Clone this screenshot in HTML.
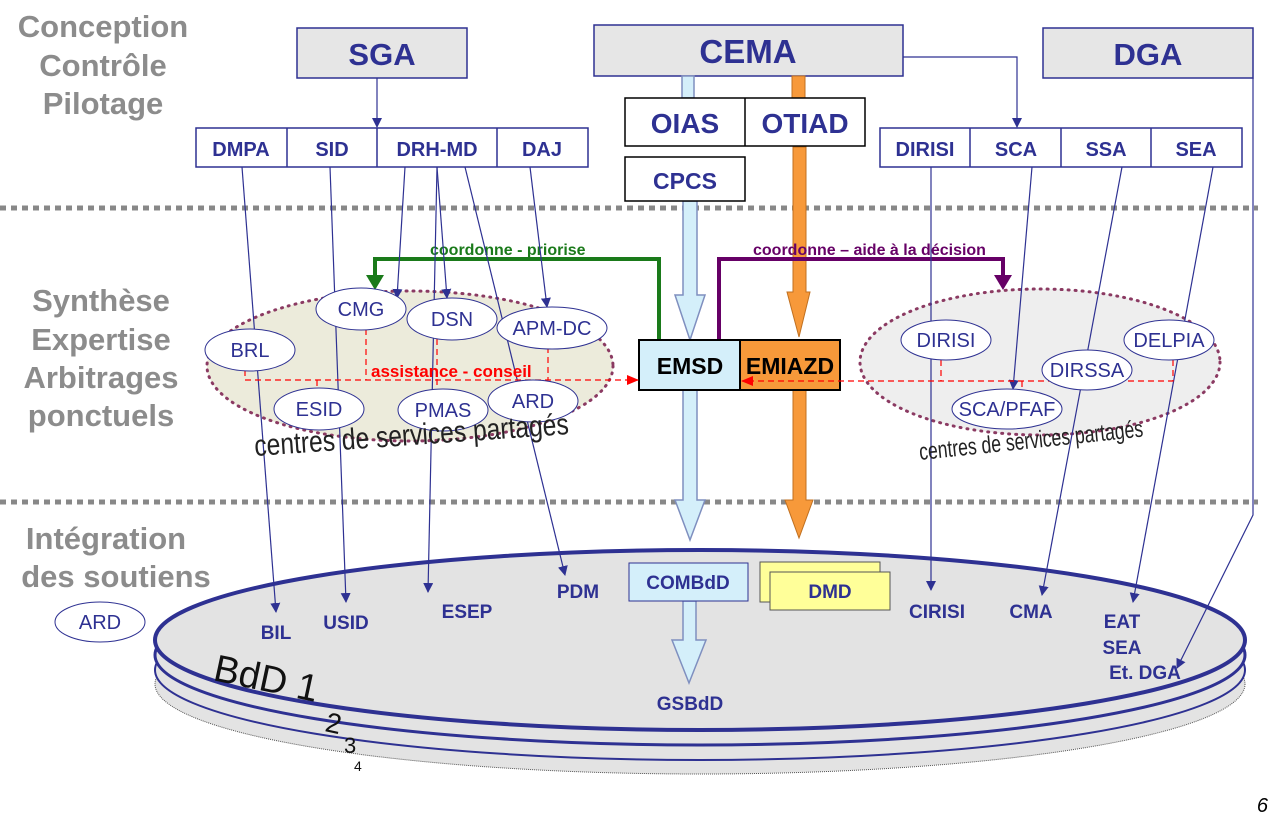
<!DOCTYPE html>
<html><head><meta charset="utf-8"><style>
html,body{margin:0;padding:0;background:#fff;width:1274px;height:814px;overflow:hidden}
svg text{font-family:"Liberation Sans",sans-serif}
.g{fill:#8c8c8c;font-weight:bold;font-size:31px}
.n{fill:#2e3192;font-weight:bold;font-size:19px}
.e{fill:#2e3192;font-size:20px}
</style></head><body>
<svg width="1274" height="814" viewBox="0 0 1274 814" xmlns="http://www.w3.org/2000/svg">
<defs>
<marker id="a" markerWidth="10" markerHeight="10" refX="9" refY="5" orient="auto" markerUnits="userSpaceOnUse"><path d="M0,0 L10,5 L0,10 z" fill="#2e3192"/></marker>
<marker id="r" markerWidth="12" markerHeight="12" refX="11" refY="6" orient="auto" markerUnits="userSpaceOnUse"><path d="M0,1 L12,6 L0,11 z" fill="#f00"/></marker>
</defs>
<g class="g" text-anchor="middle">
<text x="103" y="37">Conception</text><text x="103" y="76">Contrôle</text><text x="103" y="114">Pilotage</text>
<text x="101" y="311">Synthèse</text><text x="101" y="350">Expertise</text><text x="101" y="388">Arbitrages</text><text x="101" y="426">ponctuels</text>
<text x="106" y="549">Intégration</text><text x="116" y="587">des soutiens</text>
</g>
<line x1="0" y1="208" x2="1258" y2="208" stroke="#888" stroke-width="5" stroke-dasharray="6,5"/>
<line x1="0" y1="502" x2="1258" y2="502" stroke="#888" stroke-width="5" stroke-dasharray="6,5"/>

<g stroke="#2e3192" fill="#e3e3e3">
<ellipse cx="700" cy="684" rx="545" ry="90" stroke="#555" stroke-width="1" stroke-dasharray="1,1"/>
<ellipse cx="700" cy="670" rx="545" ry="90" stroke-width="2"/>
<ellipse cx="700" cy="655" rx="545" ry="90" stroke-width="3"/>
<ellipse cx="700" cy="640" rx="545" ry="90" stroke-width="4"/>
</g>
<text x="212" y="680" font-size="38" transform="rotate(12 212 680)" fill="#111">BdD 1</text>
<text x="324" y="731" font-size="28" transform="rotate(12 324 731)" fill="#111">2</text>
<text x="344" y="753" font-size="22" fill="#111">3</text>
<text x="354" y="771" font-size="14" fill="#111">4</text>

<ellipse cx="410" cy="366" rx="203" ry="75" fill="#ecebdb" stroke="#8b3a62" stroke-width="3" stroke-dasharray="1,6" stroke-linecap="round"/>
<ellipse cx="1040" cy="362" rx="180" ry="73" fill="#eeeeee" stroke="#8b3a62" stroke-width="3" stroke-dasharray="1,6" stroke-linecap="round"/>

<g stroke="#2e3192" stroke-width="1.5">
<rect x="297" y="28" width="170" height="50" fill="#e6e6e6"/>
<rect x="594" y="25" width="309" height="51" fill="#e6e6e6"/>
<rect x="1043" y="28" width="210" height="50" fill="#e6e6e6"/>
<rect x="196" y="128" width="392" height="39" fill="#fff"/>
<line x1="287" y1="128" x2="287" y2="167"/><line x1="377" y1="128" x2="377" y2="167"/><line x1="497" y1="128" x2="497" y2="167"/>
<rect x="880" y="128" width="362" height="39" fill="#fff"/>
<line x1="970" y1="128" x2="970" y2="167"/><line x1="1061" y1="128" x2="1061" y2="167"/><line x1="1151" y1="128" x2="1151" y2="167"/>
</g>
<g fill="#2e3192" font-weight="bold" text-anchor="middle">
<text x="382" y="65" font-size="31">SGA</text>
<text x="748" y="63" font-size="33">CEMA</text>
<text x="1148" y="65" font-size="31">DGA</text>
<g font-size="20"><text x="241" y="156">DMPA</text><text x="332" y="156">SID</text><text x="437" y="156">DRH-MD</text><text x="542" y="156">DAJ</text>
<text x="925" y="156">DIRISI</text><text x="1016" y="156">SCA</text><text x="1106" y="156">SSA</text><text x="1196" y="156">SEA</text></g>
</g>

<g fill="#d4effa" stroke="#7f8fbf" stroke-width="1.5">
<rect x="682" y="76" width="12" height="22"/>
<path d="M683,201 L697,201 L697,295 L705,295 L690,340 L675,295 L683,295 z"/>
<path d="M683,390 L697,390 L697,500 L705,500 L690,540 L675,500 L683,500 z"/>
<path d="M683,601 L696,601 L696,640 L706,640 L689,683 L672,640 L683,640 z"/>
</g>
<g fill="#f7993a" stroke="#c07020" stroke-width="1">
<rect x="792" y="76" width="13" height="22"/>
<path d="M793,147 L806,147 L806,292 L810,292 L799,337 L787,292 L793,292 z"/>
<path d="M793,390 L806,390 L806,500 L813,500 L799,538 L785,500 L793,500 z"/>
</g>

<g stroke="#000" stroke-width="1.5" fill="#fff">
<rect x="625" y="98" width="240" height="48"/><line x1="745" y1="98" x2="745" y2="146"/>
<rect x="625" y="157" width="120" height="44"/>
</g>
<g fill="#2e3192" font-weight="bold" text-anchor="middle">
<text x="685" y="133" font-size="28">OIAS</text><text x="805" y="133" font-size="28">OTIAD</text>
<text x="685" y="189" font-size="23">CPCS</text>
</g>

<polyline points="659,340 659,259 375,259 375,278" fill="none" stroke="#1a7a1a" stroke-width="4"/>
<path d="M366,275 L384,275 L375,290 z" fill="#1a7a1a"/>
<text x="430" y="255" fill="#1a7a1a" font-weight="bold" font-size="16">coordonne - priorise</text>
<polyline points="719,340 719,259 1003,259 1003,278" fill="none" stroke="#660066" stroke-width="4"/>
<path d="M994,275 L1012,275 L1003,290 z" fill="#660066"/>
<text x="753" y="255" fill="#660066" font-weight="bold" font-size="16">coordonne – aide à la décision</text>

<rect x="639" y="340" width="101" height="50" fill="#d4effa" stroke="#000" stroke-width="2"/>
<rect x="740" y="340" width="100" height="50" fill="#f7993a" stroke="#000" stroke-width="2"/>
<text x="690" y="374" text-anchor="middle" font-weight="bold" font-size="23">EMSD</text>
<text x="790" y="374" text-anchor="middle" font-weight="bold" font-size="23">EMIAZD</text>

<g stroke="#2e3192" stroke-width="1.2" fill="none" marker-end="url(#a)">
<line x1="377" y1="78" x2="377" y2="127"/>
<polyline points="903,57 1017,57 1017,127"/>
<line x1="242" y1="167" x2="276" y2="612"/>
<line x1="330" y1="167" x2="346" y2="602"/>
<line x1="405" y1="167" x2="397" y2="298"/>
<line x1="437" y1="167" x2="447" y2="298"/>
<line x1="437" y1="167" x2="428" y2="592"/>
<line x1="465" y1="167" x2="565" y2="575"/>
<line x1="530" y1="167" x2="547" y2="307"/>
<line x1="931" y1="167" x2="931" y2="590"/>
<line x1="1032" y1="167" x2="1013" y2="389"/>
<line x1="1122" y1="167" x2="1042" y2="595"/>
<line x1="1213" y1="167" x2="1133" y2="602"/>
<polyline points="1253,78 1253,515 1177,668"/>
</g>

<g stroke="#f00" stroke-width="1.2" fill="none" stroke-dasharray="6,4">
<polyline points="245,370 245,380 638,380" marker-end="url(#r)"/>
<line x1="366" y1="329" x2="366" y2="380"/><line x1="317" y1="380" x2="317" y2="390"/>
<line x1="437" y1="339" x2="437" y2="390"/><line x1="548" y1="347" x2="548" y2="380"/>
<polyline points="1173,360 1173,381 742,381" marker-end="url(#r)"/>
<line x1="941" y1="360" x2="941" y2="381"/><line x1="1022" y1="381" x2="1022" y2="389"/>
</g>
<text x="371" y="377" fill="#f00" font-weight="bold" font-size="17">assistance - conseil</text>

<g fill="#fff" stroke="#2e3192" stroke-width="1">
<ellipse cx="361" cy="309" rx="45" ry="21"/><ellipse cx="452" cy="319" rx="45" ry="21"/>
<ellipse cx="552" cy="328" rx="55" ry="21"/><ellipse cx="250" cy="350" rx="45" ry="21"/>
<ellipse cx="319" cy="409" rx="45" ry="21"/><ellipse cx="443" cy="410" rx="45" ry="21"/>
<ellipse cx="533" cy="401" rx="45" ry="21"/>
<ellipse cx="946" cy="340" rx="45" ry="20"/><ellipse cx="1169" cy="340" rx="45" ry="20"/>
<ellipse cx="1087" cy="370" rx="45" ry="20"/><ellipse cx="1007" cy="409" rx="55" ry="20"/>
<ellipse cx="100" cy="622" rx="45" ry="20"/>
</g>
<g class="e" text-anchor="middle">
<text x="361" y="316">CMG</text><text x="452" y="326">DSN</text><text x="552" y="335">APM-DC</text>
<text x="250" y="357">BRL</text><text x="319" y="416">ESID</text><text x="443" y="417">PMAS</text><text x="533" y="408">ARD</text>
<text x="946" y="347">DIRISI</text><text x="1169" y="347">DELPIA</text><text x="1087" y="377">DIRSSA</text><text x="1007" y="416">SCA/PFAF</text>
<text x="100" y="629">ARD</text>
</g>
<text x="255" y="456" font-size="30" fill="#222" transform="rotate(-4 255 456)" textLength="315" lengthAdjust="spacingAndGlyphs">centres de services partagés</text>
<text x="920" y="460" font-size="24" fill="#222" transform="rotate(-6 920 460)" textLength="225" lengthAdjust="spacingAndGlyphs">centres de services partagés</text>

<rect x="629" y="563" width="119" height="38" fill="#d4effa" stroke="#2e3192" stroke-width="1"/>
<rect x="760" y="562" width="120" height="40" fill="#ffff99" stroke="#555" stroke-width="1"/>
<rect x="770" y="572" width="120" height="38" fill="#ffff99" stroke="#555" stroke-width="1"/>
<g class="n" text-anchor="middle">
<text x="688" y="589">COMBdD</text><text x="830" y="598">DMD</text>
<text x="276" y="639">BIL</text><text x="346" y="629">USID</text><text x="467" y="618">ESEP</text><text x="578" y="598">PDM</text>
<text x="937" y="618">CIRISI</text><text x="1031" y="618">CMA</text>
<text x="1122" y="628">EAT</text><text x="1122" y="654">SEA</text><text x="1145" y="679">Et. DGA</text>
<text x="690" y="710">GSBdD</text>
</g>
<text x="1268" y="812" font-size="20" font-style="italic" text-anchor="end">6</text>
</svg>
</body></html>
